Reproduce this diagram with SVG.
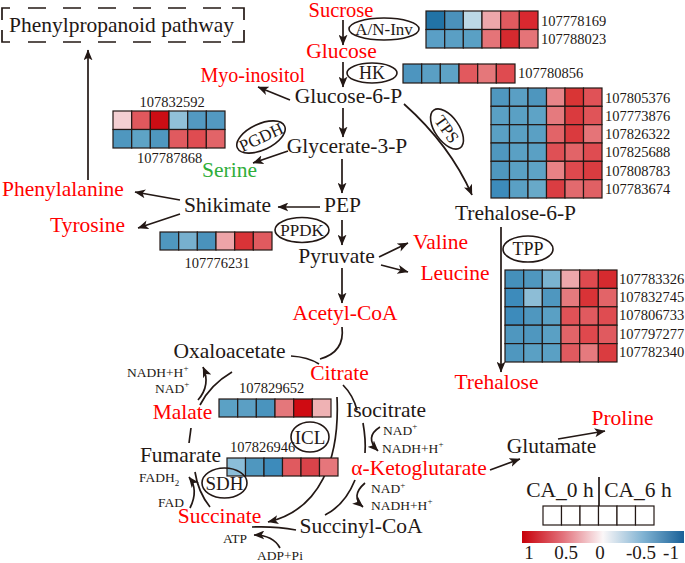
<svg xmlns="http://www.w3.org/2000/svg" width="685" height="563" viewBox="0 0 685 563">
<defs>
<marker id="ah" viewBox="0 0 12 10" refX="11.5" refY="5" markerWidth="11" markerHeight="9" orient="auto" markerUnits="userSpaceOnUse"><path d="M0,0 L12,5 L0,10 L3,5 z" fill="#231815"/></marker>
<linearGradient id="cb" x1="0" x2="1" y1="0" y2="0">
<stop offset="0" stop-color="#c8000a"/><stop offset="0.25" stop-color="#e2707a"/><stop offset="0.5" stop-color="#fbf7f8"/><stop offset="0.75" stop-color="#7fb2d2"/><stop offset="1" stop-color="#1a6198"/>
</linearGradient>
<style>
text{font-family:"Liberation Serif","Times New Roman",serif;fill:#231815}
.m{font-size:21.5px}
.r{fill:#ff0000}
.g{fill:#2fae3a}
.id{font-size:14.5px}
.s{font-size:13.5px}
.e{font-size:17px}
.c{text-anchor:middle}
.ln{stroke:#231815;stroke-width:1.7;fill:none}
.a{marker-end:url(#ah)}
.el{stroke:#231815;stroke-width:1.6;fill:none}
.hm rect{stroke:#231815;stroke-width:1.2}
</style>
</defs>

<g id="phenylpropanoid">
<path class="ln" d="M2 20V8H10M28 8H46M63 8H81M98 8H116M133 8H151M168 8H186M203 8H221M232 8H244V20M2 30V42H10M28 42H46M63 42H81M98 42H116M133 42H151M168 42H186M203 42H221M232 42H244V30" stroke-width="1.5"/>
<text class="m c" x="121.5" y="32">Phenylpropanoid pathway</text>
</g>

<g id="connectors">
<path class="ln a" d="M343 20V45"/>
<path class="ln a" d="M343 62V87"/>
<path class="ln a" d="M290 100L258 87"/>
<path class="ln a" d="M343 108V137"/>
<path class="ln a" d="M288 151L253 163"/>
<path class="ln a" d="M342 159V193"/>
<path class="ln a" d="M320 207H278"/>
<path class="ln a" d="M180 200L135 192"/>
<path class="ln a" d="M180 214L138 228"/>
<path class="ln a" d="M88 180V50"/>
<path class="ln a" d="M342 220V245"/>
<path class="ln a" d="M379 257L408 243"/>
<path class="ln a" d="M381 265L408 272"/>
<path class="ln a" d="M342 268V303"/>
<path class="ln a" d="M404 104Q450 145 472 195"/>
<path class="ln a" d="M501 227V372"/>
<path class="ln" d="M342 327Q345 352 320 359"/>
<path class="ln" d="M291 356Q308 357 319 364"/>
<path class="ln" d="M343 385Q353 395 357 410"/>
<path class="ln a" d="M337 397C340 460 320 510 268 522"/>
<path class="ln" d="M363 423Q366 440 365 453"/>
<path class="ln a" d="M380 427Q364 437 378 451"/>
<path class="ln" d="M355 480Q345 505 325 515"/>
<path class="ln a" d="M365 483Q350 496 363 507"/>
<path class="ln" d="M296 530Q275 526 252 527"/>
<path class="ln a" d="M280 548Q273 535 254 535"/>
<path class="ln" d="M195 472Q198 492 210 507"/>
<path class="ln a" d="M190 508Q199 490 189 477"/>
<path class="ln" d="M191 428L189 443"/>
<path class="ln" d="M200 405Q210 385 232 372"/>
<path class="ln a" d="M198 400Q211 385 203 367"/>
<path class="ln a" d="M490 470L520 459"/>
<path class="ln a" d="M558 439L605 431"/>
</g>

<g id="sucrose"><text class="c r" x="341" y="17" style="font-size:20.5px">Sucrose</text></g>
<g id="glucose"><text class="m c r" x="341.5" y="58">Glucose</text></g>
<g id="glucose6p"><text class="m c" x="348.5" y="103">Glucose-6-P</text></g>
<g id="myoinositol"><text class="m r" x="305" y="82" text-anchor="end" style="font-size:20px">Myo-inositol</text></g>
<g id="glycerate3p"><text class="m c" x="347" y="153">Glycerate-3-P</text></g>
<g id="serine"><text class="m c g" x="229.5" y="177">Serine</text></g>
<g id="pep"><text class="m c" x="342.5" y="212">PEP</text></g>
<g id="shikimate"><text class="m c" x="227.5" y="212">Shikimate</text></g>
<g id="phenylalanine"><text class="m c r" x="63" y="196">Phenylalanine</text></g>
<g id="tyrosine"><text class="m c r" x="87.5" y="232">Tyrosine</text></g>
<g id="pyruvate"><text class="m c" x="336.5" y="263">Pyruvate</text></g>
<g id="valine"><text class="m c r" x="440.5" y="249">Valine</text></g>
<g id="leucine"><text class="m c r" x="455" y="280">Leucine</text></g>
<g id="acetylcoa"><text class="m c r" x="345" y="320">Acetyl-CoA</text></g>
<g id="oxaloacetate"><text class="m c" x="229.5" y="358">Oxaloacetate</text></g>
<g id="citrate"><text class="m c r" x="339.5" y="380">Citrate</text></g>
<g id="isocitrate"><text class="m c" x="386" y="417">Isocitrate</text></g>
<g id="malate"><text class="m c r" x="182.5" y="419">Malate</text></g>
<g id="fumarate"><text class="m c" x="180.5" y="462">Fumarate</text></g>
<g id="aketoglutarate"><text class="m c r" x="419" y="475">α-Ketoglutarate</text></g>
<g id="succinate"><text class="m c r" x="219.5" y="523">Succinate</text></g>
<g id="succinylcoa"><text class="m c" x="361" y="533">Succinyl-CoA</text></g>
<g id="glutamate"><text class="m c" x="551.5" y="453">Glutamate</text></g>
<g id="proline"><text class="m c r" x="622.5" y="425">Proline</text></g>
<g id="trehalose6p"><text class="m c" x="515.5" y="220">Trehalose-6-P</text></g>
<g id="trehalose"><text class="m c r" x="496.5" y="389">Trehalose</text></g>

<g id="cofactors">
<text class="s" x="127" y="377">NADH+H<tspan font-size="9" dy="-6">+</tspan></text>
<text class="s" x="155" y="393">NAD<tspan font-size="9" dy="-6">+</tspan></text>
<text class="s" x="383" y="435">NAD<tspan font-size="9" dy="-6">+</tspan></text>
<text class="s" x="382" y="453">NADH+H<tspan font-size="9" dy="-6">+</tspan></text>
<text class="s" x="371" y="493">NAD<tspan font-size="9" dy="-5">+</tspan></text>
<text class="s" x="371" y="510">NADH+H<tspan font-size="9" dy="-6">+</tspan></text>
<text class="s" x="139" y="482">FADH<tspan font-size="9" dy="4">2</tspan></text>
<text class="s" x="158" y="507">FAD</text>
<text class="s" x="223" y="543">ATP</text>
<text class="s" x="257" y="560">ADP+Pi</text>
</g>

<g id="hm-aninv" class="hm">
<rect x="426" y="11" width="18.7" height="18.5" fill="#2273a6"/><rect x="444.7" y="11" width="18.7" height="18.5" fill="#4b91bb"/><rect x="463.3" y="11" width="18.7" height="18.5" fill="#bcd8e6"/><rect x="482" y="11" width="18.7" height="18.5" fill="#eda7ab"/><rect x="500.7" y="11" width="18.7" height="18.5" fill="#e05a5f"/><rect x="519.3" y="11" width="18.7" height="18.5" fill="#d9282f"/>
<rect x="426" y="29.5" width="18.7" height="18.5" fill="#5a9fc6"/><rect x="444.7" y="29.5" width="18.7" height="18.5" fill="#5a9fc4"/><rect x="463.3" y="29.5" width="18.7" height="18.5" fill="#5aa0c4"/><rect x="482" y="29.5" width="18.7" height="18.5" fill="#e57478"/><rect x="500.7" y="29.5" width="18.7" height="18.5" fill="#d52a2f"/><rect x="519.3" y="29.5" width="18.7" height="18.5" fill="#e57478"/>
<text class="id" x="541" y="26">107778169</text><text class="id" x="541" y="44">107788023</text>
</g>
<g id="enz-aninv"><ellipse class="el" cx="384" cy="29" rx="35" ry="11"/><text class="e c" x="384" y="35">A/N-Inv</text></g>

<g id="hm-hk" class="hm">
<rect x="403" y="64" width="18.7" height="19" fill="#4d95bf"/><rect x="421.7" y="64" width="18.7" height="19" fill="#5a9fc4"/><rect x="440.3" y="64" width="18.7" height="19" fill="#5ea3c6"/><rect x="459" y="64" width="18.7" height="19" fill="#e2595e"/><rect x="477.7" y="64" width="18.7" height="19" fill="#e5777a"/><rect x="496.3" y="64" width="18.7" height="19" fill="#df4b50"/>
<text class="id" x="518" y="78">107780856</text>
</g>
<g id="enz-hk"><ellipse class="el" cx="372" cy="73" rx="25" ry="10"/><text class="e c" x="372" y="79" style="font-size:18px">HK</text></g>

<g id="hm-tps" class="hm">
<rect x="491" y="88" width="18.5" height="18.3" fill="#4f97bf"/><rect x="509.5" y="88" width="18.5" height="18.3" fill="#5a9fc4"/><rect x="528" y="88" width="18.5" height="18.3" fill="#4e96be"/><rect x="546.5" y="88" width="18.5" height="18.3" fill="#e88589"/><rect x="565" y="88" width="18.5" height="18.3" fill="#d93535"/><rect x="583.5" y="88" width="18.5" height="18.3" fill="#e05257"/>
<rect x="491" y="106.3" width="18.5" height="18.3" fill="#5aa0c4"/><rect x="509.5" y="106.3" width="18.5" height="18.3" fill="#5aa0c4"/><rect x="528" y="106.3" width="18.5" height="18.3" fill="#5ea3c6"/><rect x="546.5" y="106.3" width="18.5" height="18.3" fill="#e57a7e"/><rect x="565" y="106.3" width="18.5" height="18.3" fill="#da3a3e"/><rect x="583.5" y="106.3" width="18.5" height="18.3" fill="#e05458"/>
<rect x="491" y="124.7" width="18.5" height="18.3" fill="#5aa0c4"/><rect x="509.5" y="124.7" width="18.5" height="18.3" fill="#5aa0c4"/><rect x="528" y="124.7" width="18.5" height="18.3" fill="#5aa0c4"/><rect x="546.5" y="124.7" width="18.5" height="18.3" fill="#e26468"/><rect x="565" y="124.7" width="18.5" height="18.3" fill="#da3a3e"/><rect x="583.5" y="124.7" width="18.5" height="18.3" fill="#e57478"/>
<rect x="491" y="143" width="18.5" height="18.3" fill="#4f97bf"/><rect x="509.5" y="143" width="18.5" height="18.3" fill="#5aa0c4"/><rect x="528" y="143" width="18.5" height="18.3" fill="#5aa0c4"/><rect x="546.5" y="143" width="18.5" height="18.3" fill="#df5055"/><rect x="565" y="143" width="18.5" height="18.3" fill="#e26468"/><rect x="583.5" y="143" width="18.5" height="18.3" fill="#df4c51"/>
<rect x="491" y="161.3" width="18.5" height="18.3" fill="#4f97bf"/><rect x="509.5" y="161.3" width="18.5" height="18.3" fill="#5aa0c4"/><rect x="528" y="161.3" width="18.5" height="18.3" fill="#5ea3c6"/><rect x="546.5" y="161.3" width="18.5" height="18.3" fill="#e88285"/><rect x="565" y="161.3" width="18.5" height="18.3" fill="#de494e"/><rect x="583.5" y="161.3" width="18.5" height="18.3" fill="#da3c40"/>
<rect x="491" y="179.7" width="18.5" height="18.3" fill="#3d8bbb"/><rect x="509.5" y="179.7" width="18.5" height="18.3" fill="#5aa0c4"/><rect x="528" y="179.7" width="18.5" height="18.3" fill="#68a9c8"/><rect x="546.5" y="179.7" width="18.5" height="18.3" fill="#da3d42"/><rect x="565" y="179.7" width="18.5" height="18.3" fill="#e26a6e"/><rect x="583.5" y="179.7" width="18.5" height="18.3" fill="#e06064"/>
<text class="id" x="605" y="103">107805376</text><text class="id" x="605" y="121">107773876</text><text class="id" x="605" y="139">107826322</text><text class="id" x="605" y="157">107825688</text><text class="id" x="605" y="176">107808783</text><text class="id" x="605" y="194">107783674</text>
</g>
<g id="enz-tps"><g transform="translate(447,129) rotate(55)"><ellipse class="el" cx="0" cy="0" rx="23" ry="12"/><text class="e c" x="0" y="6">TPS</text></g></g>

<g id="hm-tpp" class="hm">
<rect x="505" y="270" width="18.7" height="18.4" fill="#4590bb"/><rect x="523.7" y="270" width="18.7" height="18.4" fill="#4f97bf"/><rect x="542.3" y="270" width="18.7" height="18.4" fill="#7ab3d0"/><rect x="561" y="270" width="18.7" height="18.4" fill="#eda7ab"/><rect x="579.7" y="270" width="18.7" height="18.4" fill="#de4a4f"/><rect x="598.3" y="270" width="18.7" height="18.4" fill="#d62a2f"/>
<rect x="505" y="288.4" width="18.7" height="18.4" fill="#3d8bbb"/><rect x="523.7" y="288.4" width="18.7" height="18.4" fill="#8dbdd6"/><rect x="542.3" y="288.4" width="18.7" height="18.4" fill="#4f97bf"/><rect x="561" y="288.4" width="18.7" height="18.4" fill="#e57a7e"/><rect x="579.7" y="288.4" width="18.7" height="18.4" fill="#d93337"/><rect x="598.3" y="288.4" width="18.7" height="18.4" fill="#e26468"/>
<rect x="505" y="306.8" width="18.7" height="18.4" fill="#3d8bbb"/><rect x="523.7" y="306.8" width="18.7" height="18.4" fill="#4f97bf"/><rect x="542.3" y="306.8" width="18.7" height="18.4" fill="#5aa0c4"/><rect x="561" y="306.8" width="18.7" height="18.4" fill="#e05257"/><rect x="579.7" y="306.8" width="18.7" height="18.4" fill="#e05a5f"/><rect x="598.3" y="306.8" width="18.7" height="18.4" fill="#df4c51"/>
<rect x="505" y="325.2" width="18.7" height="18.4" fill="#4f97bf"/><rect x="523.7" y="325.2" width="18.7" height="18.4" fill="#4f97bf"/><rect x="542.3" y="325.2" width="18.7" height="18.4" fill="#5aa0c4"/><rect x="561" y="325.2" width="18.7" height="18.4" fill="#e26468"/><rect x="579.7" y="325.2" width="18.7" height="18.4" fill="#df484d"/><rect x="598.3" y="325.2" width="18.7" height="18.4" fill="#e05a5f"/>
<rect x="505" y="343.6" width="18.7" height="18.4" fill="#4f97bf"/><rect x="523.7" y="343.6" width="18.7" height="18.4" fill="#5aa0c4"/><rect x="542.3" y="343.6" width="18.7" height="18.4" fill="#5aa0c4"/><rect x="561" y="343.6" width="18.7" height="18.4" fill="#e05a5f"/><rect x="579.7" y="343.6" width="18.7" height="18.4" fill="#e57a7e"/><rect x="598.3" y="343.6" width="18.7" height="18.4" fill="#da3c40"/>
<text class="id" x="619" y="284">107783326</text><text class="id" x="619" y="302">107832745</text><text class="id" x="619" y="320">107806733</text><text class="id" x="619" y="339">107797277</text><text class="id" x="619" y="357">107782340</text>
</g>
<g id="enz-tpp"><ellipse class="el" cx="528" cy="249" rx="25" ry="13"/><text class="e c" x="528" y="255" style="font-size:18px">TPP</text></g>

<g id="hm-pgdh" class="hm">
<text class="id c" x="172" y="107">107832592</text>
<rect x="113" y="111" width="18.7" height="18.5" fill="#f4cfd2"/><rect x="131.7" y="111" width="18.7" height="18.5" fill="#e0585d"/><rect x="150.3" y="111" width="18.7" height="18.5" fill="#cc0d14"/><rect x="169" y="111" width="18.7" height="18.5" fill="#91c0d8"/><rect x="187.7" y="111" width="18.7" height="18.5" fill="#5399c1"/><rect x="206.3" y="111" width="18.7" height="18.5" fill="#5399c1"/>
<rect x="113" y="129.5" width="18.7" height="18.5" fill="#4f97bf"/><rect x="131.7" y="129.5" width="18.7" height="18.5" fill="#5ea3c6"/><rect x="150.3" y="129.5" width="18.7" height="18.5" fill="#4f97bf"/><rect x="169" y="129.5" width="18.7" height="18.5" fill="#e05a5f"/><rect x="187.7" y="129.5" width="18.7" height="18.5" fill="#df4c51"/><rect x="206.3" y="129.5" width="18.7" height="18.5" fill="#e26468"/>
<text class="id c" x="169.5" y="163">107787868</text>
</g>
<g id="enz-pgdh"><g transform="translate(261,137) rotate(-25)"><ellipse class="el" cx="0" cy="0" rx="26" ry="13"/><text class="e c" x="0" y="6">PGDH</text></g></g>

<g id="hm-ppdk" class="hm">
<rect x="160" y="232" width="18.7" height="18" fill="#4f97bf"/><rect x="178.7" y="232" width="18.7" height="18" fill="#77b0cf"/><rect x="197.3" y="232" width="18.7" height="18" fill="#4a92bc"/><rect x="216" y="232" width="18.7" height="18" fill="#eea4a8"/><rect x="234.7" y="232" width="18.7" height="18" fill="#d93337"/><rect x="253.3" y="232" width="18.7" height="18" fill="#e05a5f"/>
<text class="id c" x="217" y="268">107776231</text>
</g>
<g id="enz-ppdk"><ellipse class="el" cx="302" cy="230" rx="27" ry="12.5"/><text class="e c" x="302" y="236">PPDK</text></g>

<g id="hm-mdh" class="hm">
<text class="id c" x="271.5" y="393">107829652</text>
<rect x="219" y="399" width="18.7" height="18" fill="#5ba1c5"/><rect x="237.7" y="399" width="18.7" height="18" fill="#5b9fc4"/><rect x="256.3" y="399" width="18.7" height="18" fill="#4a94be"/><rect x="275" y="399" width="18.7" height="18" fill="#e4777b"/><rect x="293.7" y="399" width="18.7" height="18" fill="#cf0b12"/><rect x="312.3" y="399" width="18.7" height="18" fill="#efb2b4"/>
</g>

<g id="hm-sdh" class="hm">
<text class="id c" x="262.5" y="452">107826946</text>
<rect x="227" y="458" width="18.5" height="18" fill="#8bbdd8"/><rect x="245.5" y="458" width="18.5" height="18" fill="#4f97bf"/><rect x="264" y="458" width="18.5" height="18" fill="#3d8bbb"/><rect x="282.5" y="458" width="18.5" height="18" fill="#e05a5f"/><rect x="301" y="458" width="18.5" height="18" fill="#d9434a"/><rect x="319.5" y="458" width="18.5" height="18" fill="#e6767b"/>
</g>
<g id="enz-icl"><ellipse class="el" cx="310" cy="437" rx="19" ry="15"/><text class="e c" x="310" y="444" style="font-size:19px">ICL</text></g>
<g id="enz-sdh"><ellipse class="el" cx="224.5" cy="483" rx="22.5" ry="15"/><text class="e c" x="224.5" y="490" style="font-size:19px">SDH</text></g>

<g id="legend">
<text class="m c" x="560" y="497">CA_0 h</text>
<text class="m c" x="638" y="497">CA_6 h</text>
<path class="ln" d="M599 477V506" stroke-width="1.4"/>
<g class="hm"><rect x="543" y="506" width="18.5" height="19" fill="#fff"/><rect x="561.5" y="506" width="18.5" height="19" fill="#fff"/><rect x="580" y="506" width="18.5" height="19" fill="#fff"/><rect x="598.5" y="506" width="18.5" height="19" fill="#fff"/><rect x="617" y="506" width="18.5" height="19" fill="#fff"/><rect x="635.5" y="506" width="18.5" height="19" fill="#fff"/></g>
<rect x="522" y="531" width="162" height="12" fill="url(#cb)"/>
<text class="c" x="529" y="559" style="font-size:19px">1</text>
<text class="c" x="566" y="559" style="font-size:19px">0.5</text>
<text class="c" x="600" y="559" style="font-size:19px">0</text>
<text class="c" x="641" y="559" style="font-size:19px">-0.5</text>
<text class="c" x="671" y="559" style="font-size:19px">-1</text>
</g>
</svg>
